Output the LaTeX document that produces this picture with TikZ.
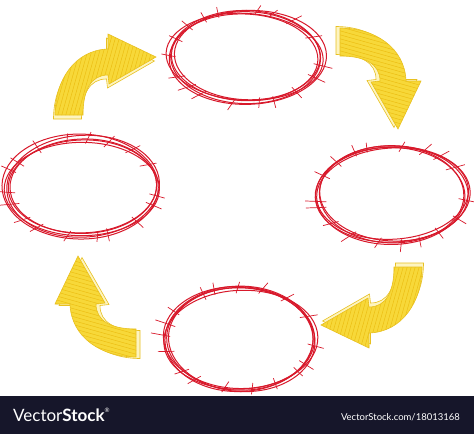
\documentclass[tikz,border=0pt]{standalone}
\usepackage{fontspec}
\setmainfont{Lato}
\usetikzlibrary{shapes.geometric}
\definecolor{redc}{HTML}{D8192B}
\definecolor{yelc}{HTML}{F7D839}
\definecolor{yelh}{HTML}{EBBC10}
\definecolor{yeld}{HTML}{E8C020}
\definecolor{yell}{HTML}{FDF4C0}
\definecolor{barc}{HTML}{16162A}
\tikzset{
  redline/.style={draw=redc, line width=1pt},
  hatchline/.style={draw=yelh, line width=0.45pt},
  arrowedge/.style={draw=yeld, line width=0.6pt},
}
\newcommand\apath[1]{\path[#1] (-50,40) .. controls (-50,5) and (-30,-25) .. (3,-26) -- (3,-41) -- (51,-18) -- (4,9) -- (3,0) .. controls (-14,0) and (-22,15) .. (-22,40) -- cycle;}
\newcommand\sketcharrow[4]{% name cx cy rot
  \coordinate (#1) at (#2,#3);
  \begin{scope}[shift={(#2,#3)}, rotate=#4]
    \apath{arrowedge, fill=yell, shift={(-1.5,4)}}
    \apath{fill=yelc}
    \begin{scope}
      \apath{clip}
      \foreach \i in {-130,-126,...,130}{\draw[hatchline] (\i,50) -- (\i+28,-50);}
    \end{scope}
    \apath{arrowedge}
  \end{scope}}
\newcommand\sketchell[5]{% name cx cy rx ry
  \node[ellipse, minimum width=2*#4pt, minimum height=2*#5pt, inner sep=0pt] (#1) at (#2,#3) {};
  \foreach \k in {1,...,5}{
    \pgfmathsetmacro\drx{#4+rnd*7-3.5}
    \pgfmathsetmacro\dry{#5+rnd*7-3.5}
    \pgfmathsetmacro\dx{rnd*4-2}
    \pgfmathsetmacro\dy{rnd*4-2}
    \pgfmathsetmacro\rot{rnd*8-4}
    \draw[redline, rotate around={\rot:(#2,#3)}] ({#2+\dx},{#3+\dy}) ellipse [x radius=\drx, y radius=\dry];
  }
  \foreach \a in {0,19,...,340}{
    \pgfmathsetmacro\aa{\a+rnd*12}
    \pgfmathsetmacro\ai{0.88+rnd*0.05}
    \pgfmathsetmacro\ao{1.1+rnd*0.08}
    \draw[redline, line width=0.7pt] ({#2+#4*\ai*cos(\aa)},{#3+#5*\ai*sin(\aa)}) -- ({#2+#4*\ao*cos(\aa+3)},{#3+#5*\ao*sin(\aa+3)});
  }}
\begin{document}
\begin{tikzpicture}[x=1pt, y=-1pt]
  \useasboundingbox (0,0) rectangle (474,434);
  \fill[white] (0,0) rectangle (474,434);
  \pgfmathsetseed{7}
  \sketchell{top}{246}{57}{76}{46}
  \sketchell{left}{82}{188}{76}{49}
  \sketchell{right}{392}{195}{75}{49}
  \sketchell{bottom}{240}{338}{76}{50}
  \sketcharrow{a1}{105}{75}{0}
  \sketcharrow{a2}{380}{78}{-90}
  \sketcharrow{a3}{372}{307}{180}
  \sketcharrow{a4}{96}{307}{90}
  \fill[barc] (0,396) rectangle (474,434);
  \node[anchor=west, text=white, font=\fontsize{17}{20}\selectfont, inner sep=0pt] (logo) at (13,415) {Vector\textbf{Stock}\raisebox{1.1ex}{\fontsize{6}{6}\selectfont\textregistered}};
  \node[anchor=east, text=white, font=\fontsize{9.5}{11}\selectfont, inner sep=0pt] (url) at (460,417) {VectorStock.com/18013168};
\end{tikzpicture}
\end{document}
